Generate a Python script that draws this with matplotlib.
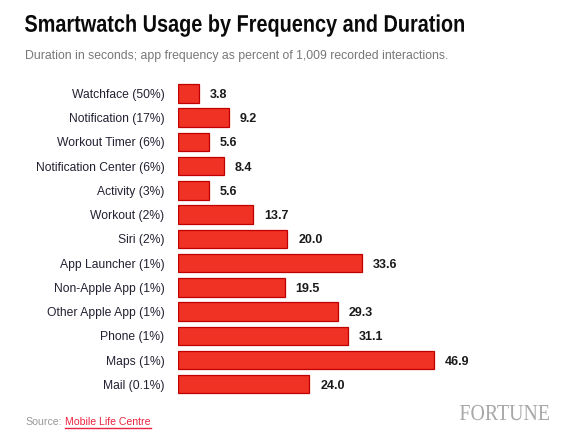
import matplotlib
matplotlib.use("Agg")
from matplotlib import pyplot as plt
from matplotlib.textpath import TextPath
from matplotlib.patches import PathPatch
from matplotlib.font_manager import FontProperties
from matplotlib.transforms import Affine2D
from matplotlib.lines import Line2D

# data
apps = ["Watchface (50%)", "Notification (17%)", "Workout Timer (6%)",
        "Notification Center (6%)", "Activity (3%)", "Workout (2%)", "Siri (2%)",
        "App Launcher (1%)", "Non-Apple App (1%)", "Other Apple App (1%)",
        "Phone (1%)", "Maps (1%)", "Mail (0.1%)"]
duration = [3.8, 9.2, 5.6, 8.4, 5.6, 13.7, 20.0, 33.6, 19.5, 29.3, 31.1, 46.9, 24.0]

plt.rcParams["font.family"] = ["Liberation Sans", "DejaVu Sans"]

W, H = 566, 432
fig = plt.figure(figsize=(W / 100, H / 100), dpi=100)
fig.patch.set_facecolor("white")
ax = fig.add_axes([0.315, 0.0824, 0.4823, 0.7296])

ypos = list(range(len(apps)))
ax.barh(ypos, duration, height=0.76, color="#f03224", edgecolor="#c00000", linewidth=0.9)
for y, v in zip(ypos, duration):
    ax.annotate("%.1f" % v, (v, y), xytext=(7.8, 0), textcoords="offset points",
                va="center_baseline", ha="left", fontsize=9, fontweight="bold", color="#1a1a1a")

ax.set_yticks(ypos)
ax.set_yticklabels(apps, fontsize=8.75, color="#222233")
ax.tick_params(axis="y", length=0, pad=10)
ax.set_xticks([])
ax.set_xlim(0, 50)
ax.set_ylim(len(apps) - 0.5, -0.5)
for s in ax.spines.values():
    s.set_visible(False)


# condensed text: squeeze a text path to a given width and cap height (pixels)
def squeezed(text, x0, base, width, cap, fp, color):
    tp = TextPath((0, 0), text, size=100, prop=fp)
    ch = TextPath((0, 0), "H", size=100, prop=fp).get_extents().y1
    ext = tp.get_extents()
    tr = (Affine2D().translate(-ext.x0, 0)
          .scale(width / (ext.x1 - ext.x0), cap / ch)
          .translate(x0, H - base))
    fig.add_artist(PathPatch(tp, transform=tr, facecolor=color, edgecolor="none"))


squeezed("Smartwatch Usage by Frequency and Duration", 25, 31.7, 439, 16.5,
         FontProperties(family="Liberation Sans", weight="bold"), "#0a0a0a")
squeezed("FORTUNE", 460, 420, 89, 15,
         FontProperties(family="Liberation Serif"), "#a8a8a8")

fig.text(25 / W, 1 - 56 / H,
         "Duration in seconds; app frequency as percent of 1,009 recorded interactions.",
         fontsize=8.8, color="#777777", va="center")
fig.text(25 / W, 1 - 422 / H, "Source:", fontsize=7.6, color="#999999", va="center")
src = fig.text(65 / W, 1 - 422 / H, "Mobile Life Centre", fontsize=7.6, color="#ec2340",
               va="center")
fig.canvas.draw()
bb = src.get_window_extent()
fig.add_artist(Line2D([bb.x0, bb.x1], [H - 427.5, H - 427.5], color="#ec2340", lw=1.0,
                      transform=None))

fig.savefig("out.png", dpi=100)
